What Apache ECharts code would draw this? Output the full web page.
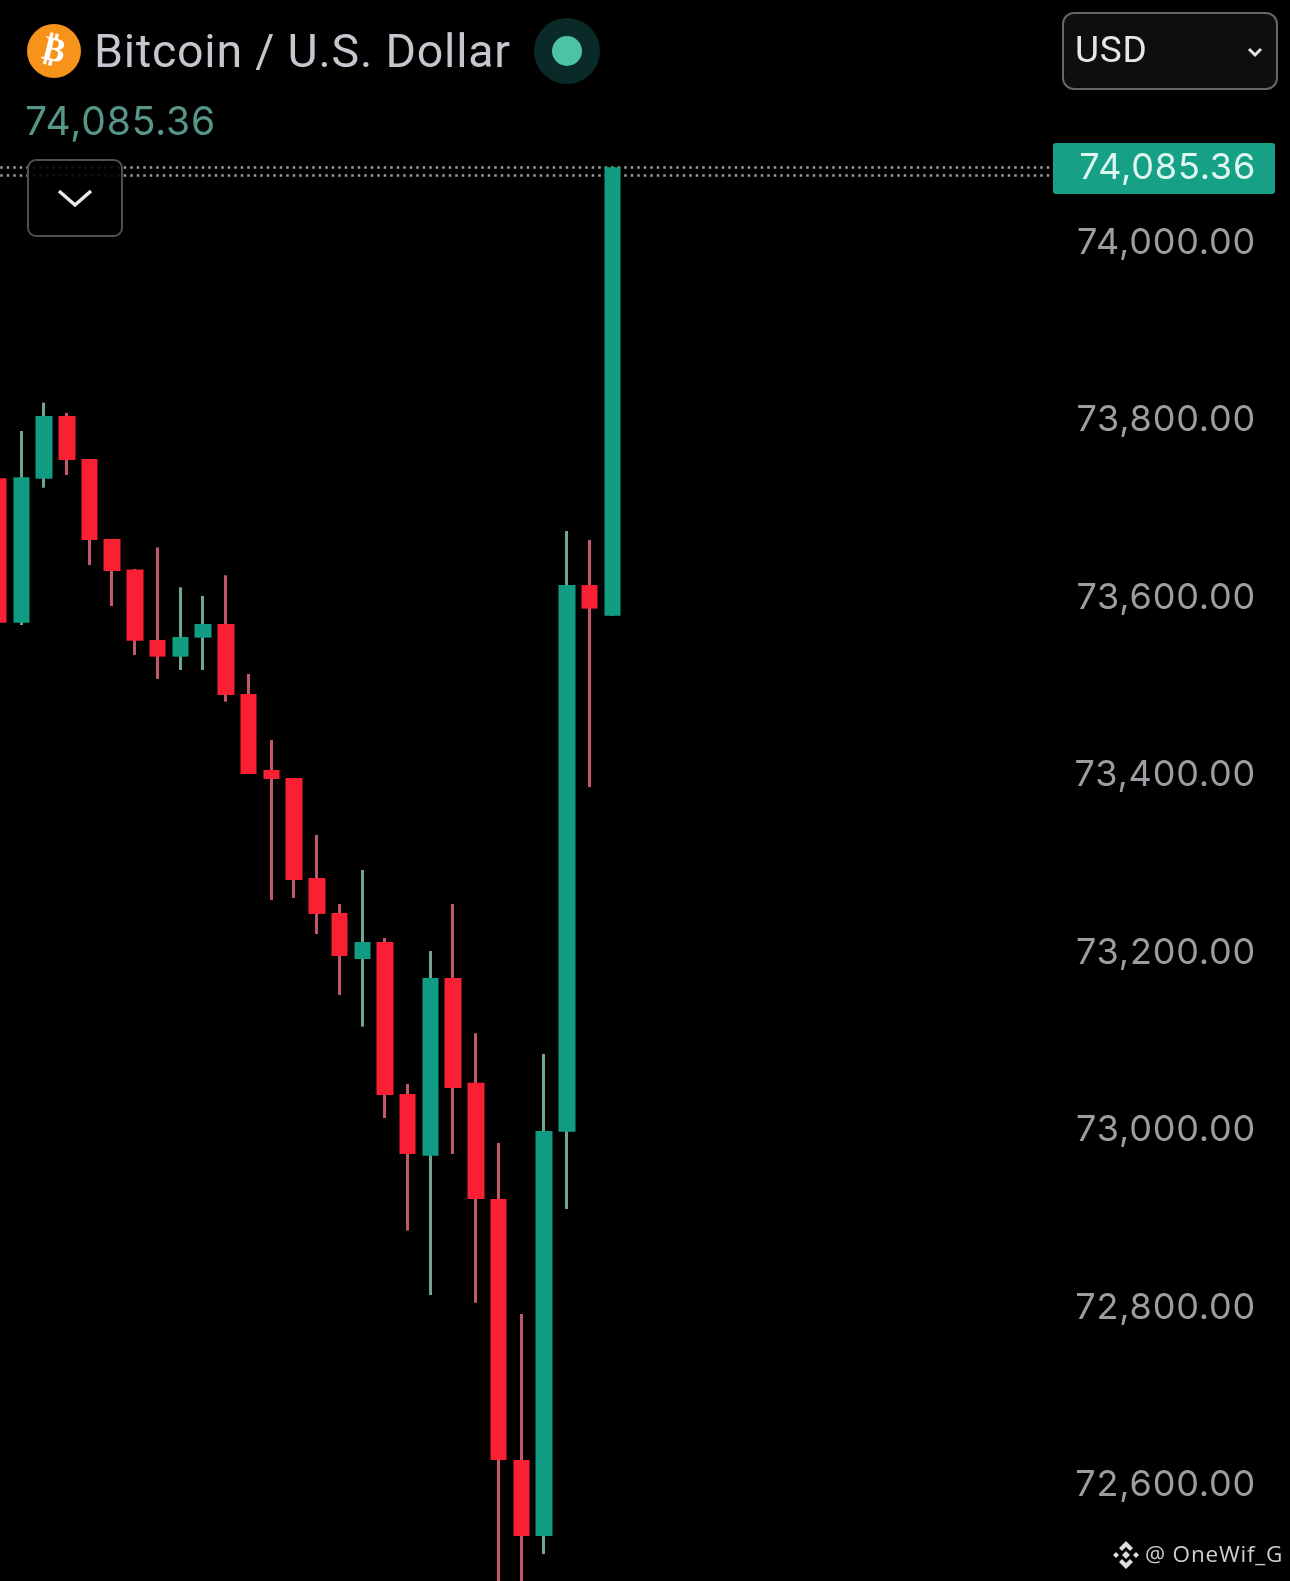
<!DOCTYPE html>
<html>
<head>
<meta charset="utf-8">
<style>html,body{margin:0;padding:0;background:#000}#c{width:1290px;height:1581px}</style>
<script src="https://cdn.jsdelivr.net/npm/echarts@6/dist/echarts.min.js"></script>
</head>
<body>
<div id="c"></div>
<script>
const titleText = 'Bitcoin / U.S. Dollar';
const currency = 'USD';
const lastPrice = 74085.36;
const watermark = '@ OneWif_G';

const opens  = [73734.9,73572.2,73734.4,73805.1,73756.6,73666.5,73632.1,73552.7,73533.9,73555.3,73570.7,73491.8,73406.2,73397.2,73284.5,73245.1,73193.2,73212.4,73041.1,72971.6,73171.8,73053.8,72922.8,72628.7,72543.1,72998.7,73614.6,73580.0];
const closes = [73572.2,73736.0,73805.1,73755.5,73665.4,73630.4,73551.9,73533.9,73556.1,73570.7,73490.7,73401.7,73396.1,73282.3,73244.0,73196.6,73212.4,73040.0,72973.5,73171.8,73047.9,72922.8,72628.7,72543.1,72999.4,73614.6,73588.0,74085.36];
const lows   = [73572.2,73569.6,73724.3,73738.6,73637.2,73591.0,73535.8,73508.7,73518.9,73518.9,73483.2,73401.7,73259.7,73262.0,73221.4,73152.7,73117.0,73014.1,72887.3,72814.7,72973.5,72806.0,72448.4,72471.0,72522.8,72911.6,73387.0,73580.0];
const highs  = [73734.9,73788.2,73820.1,73808.5,73756.6,73666.5,73632.7,73657.1,73612.1,73602.3,73625.6,73514.4,73440.0,73397.2,73333.0,73255.2,73293.5,73216.9,73052.4,73202.3,73255.2,73109.5,72985.9,72793.2,73086.2,73675.5,73665.4,74085.36];
const emptySlots = 19;
const priceShadow = 74076.6;

const categories = opens.map((_, i) => String(i)).concat(Array.from({length: emptySlots}, (_, i) => 'e' + i));
const wickData = opens.map((o, i) => [o, closes[i], lows[i], highs[i]]);
const bodyData = opens.map((o, i) => [o, closes[i], Math.min(o, closes[i]), Math.max(o, closes[i])]);
const fmt = v => v.toLocaleString('en-US', {minimumFractionDigits: 2, maximumFractionDigits: 2});

// Wider tracking for all canvas text, as in the reference
const baseFillText = CanvasRenderingContext2D.prototype.fillText;
CanvasRenderingContext2D.prototype.fillText = function (...args) {
  this.letterSpacing = '0.8px';
  return baseFillText.apply(this, args);
};

const chart = echarts.init(document.getElementById('c'), null, {renderer: 'canvas', width: 1290, height: 1581});
const dotStyle = {color: '#9aaaa4', width: 2.5, type: [2.5, 4], opacity: 0.95};

chart.setOption({
  backgroundColor: '#000',
  animation: false,
  grid: {left: -12.765, top: 65.5, width: 1068.3, height: 1597.5, containLabel: false, outerBoundsMode: 'none'},
  xAxis: {type: 'category', data: categories, boundaryGap: true, show: false},
  yAxis: {
    type: 'value', position: 'right', min: 72400, max: 74200, interval: 200, scale: true,
    splitLine: {show: false}, axisLine: {show: false}, axisTick: {show: false},
    axisLabel: {
      show: true, inside: false, align: 'right', margin: 200.5,
      fontFamily: 'Inter', fontSize: 36, color: '#9c9ca2', padding: [0, 0, 4, 0],
      showMinLabel: false, showMaxLabel: false, formatter: fmt
    }
  },
  series: [
    {
      type: 'candlestick', name: 'wick', data: wickData, barWidth: 1, z: 2,
      itemStyle: {color: '#6fa593', color0: '#c2596a', borderColor: '#6fa593', borderColor0: '#c2596a', borderWidth: 3},
      markLine: {
        silent: true, symbol: 'none', label: {show: false}, animation: false,
        lineStyle: dotStyle, z: 1,
        data: [{yAxis: lastPrice}, {yAxis: priceShadow}]
      }
    },
    {
      type: 'candlestick', name: 'body', data: bodyData, barWidth: 17, z: 3,
      itemStyle: {color: '#119c84', color0: '#fb1f33', borderColor: '#119c84', borderColor0: '#fb1f33', borderWidth: 0}
    }
  ],
  graphic: [
    // Coin icon
    {type: 'circle', shape: {cx: 54, cy: 51, r: 27}, style: {fill: '#f7931a'}, z: 10},
    {type: 'text', x: 54, y: 52, rotation: -0.24, originX: 0, originY: 0, z: 11,
     style: {text: '₿', fill: '#fff', font: 'bold 34px "DejaVu Sans"', align: 'center', verticalAlign: 'middle'}},
    // Title
    {type: 'text', x: 94, y: 55, z: 10,
     style: {text: titleText, fill: '#c6c6cf', font: '46.5px Roboto', align: 'left', verticalAlign: 'middle'}},
    // Live dot
    {type: 'circle', shape: {cx: 567, cy: 51, r: 33}, style: {fill: '#0a2a28'}, z: 10},
    {type: 'circle', shape: {cx: 567, cy: 51, r: 15}, style: {fill: '#4cc2a6'}, z: 11},
    // Price under title
    {type: 'text', x: 25, y: 123, z: 10,
     style: {text: fmt(lastPrice), fill: '#56978a', font: '39px Inter', align: 'left', verticalAlign: 'middle'}},
    // Collapse button
    {type: 'rect', shape: {x: 28, y: 160, width: 94, height: 76, r: 8},
     style: {fill: 'rgba(0,0,0,0.88)', stroke: '#505050', lineWidth: 2}, z: 10},
    {type: 'polyline', shape: {points: [[59, 191], [75, 205], [91, 191]]},
     style: {stroke: '#e8e8e8', lineWidth: 3.5, fill: null}, z: 11},
    // Currency select
    {type: 'rect', shape: {x: 1063, y: 13, width: 214, height: 76, r: 11},
     style: {fill: '#0e0e0e', stroke: '#666', lineWidth: 2}, z: 10},
    {type: 'text', x: 1075, y: 53, z: 11,
     style: {text: currency, fill: '#e6e6e6', font: '37px Roboto', align: 'left', verticalAlign: 'middle'}},
    {type: 'polyline', shape: {points: [[1249, 49], [1255, 55], [1261, 49]]},
     style: {stroke: '#e6e6e6', lineWidth: 3, fill: null}, z: 11},
    // Price tag
    {type: 'rect', shape: {x: 1053, y: 143, width: 222, height: 51, r: 3}, style: {fill: '#16a085'}, z: 10},
    {type: 'text', x: 1256, y: 168, z: 11,
     style: {text: fmt(lastPrice), fill: '#dff7f1', font: '36px Inter', align: 'right', verticalAlign: 'middle'}},
    // Watermark logo and handle
    {type: 'polygon', shape: {points: [[1126, 1541], [1133, 1548], [1130, 1551], [1126, 1547], [1122, 1551], [1119, 1548]]}, style: {fill: '#ddd'}, z: 10},
    {type: 'polygon', shape: {points: [[1126, 1569], [1133, 1562], [1130, 1559], [1126, 1563], [1122, 1559], [1119, 1562]]}, style: {fill: '#ddd'}, z: 10},
    {type: 'polygon', shape: {points: [[1126, 1551], [1130, 1555], [1126, 1559], [1122, 1555]]}, style: {fill: '#ddd'}, z: 10},
    {type: 'polygon', shape: {points: [[1116, 1552], [1119, 1555], [1116, 1558], [1113, 1555]]}, style: {fill: '#ddd'}, z: 10},
    {type: 'polygon', shape: {points: [[1136, 1552], [1139, 1555], [1136, 1558], [1133, 1555]]}, style: {fill: '#ddd'}, z: 10},
    {type: 'text', x: 1145, y: 1556, z: 10,
     style: {text: watermark, fill: '#cfcfcf', font: '22.5px "Open Sans"', align: 'left', verticalAlign: 'middle'}}
  ]
});
</script>
</body>
</html>
